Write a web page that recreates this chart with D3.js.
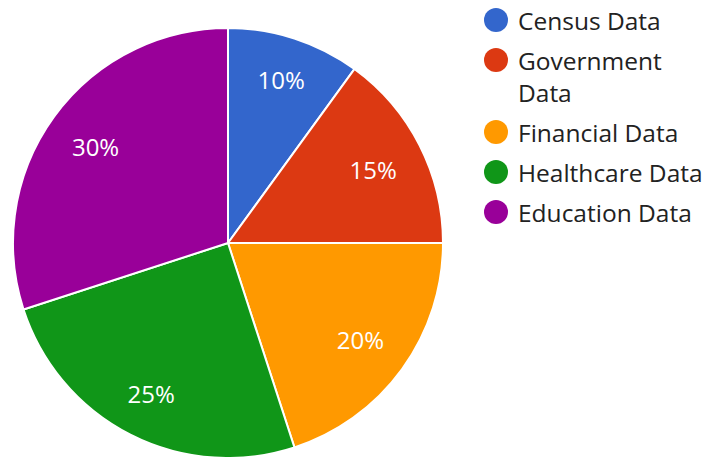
<!DOCTYPE html>
<html><head><meta charset="utf-8">
<script src="https://cdn.jsdelivr.net/npm/d3@7"></script>
<style>body{margin:0;background:#fff}svg{display:block}</style>
</head><body>
<svg id="c" width="704" height="457"></svg>
<script>
const categories = ["Census Data", "Government Data", "Financial Data", "Healthcare Data", "Education Data"];
const values = [10, 15, 20, 25, 30];
const colors = ["#3366cc", "#dc3912", "#ff9900", "#109618", "#990099"];
const legendLines = [["Census Data"], ["Government", "Data"], ["Financial Data"], ["Healthcare Data"], ["Education Data"]];

const svg = d3.select("#c");
const cx = 228, cy = 243, r = 215;
const total = d3.sum(values);
const pie = d3.pie().sort(null).value(d => d)(values);
const arc = d3.arc().innerRadius(0).outerRadius(r);
const g = svg.append("g").attr("transform", `translate(${cx},${cy})`);
g.selectAll("path").data(pie).join("path")
  .attr("d", arc).attr("fill", (d, i) => colors[i])
  .attr("stroke", "#fff").attr("stroke-width", 2);
const fs = 24;
g.selectAll("text").data(pie).join("text")
  .attr("text-anchor", "middle").attr("dominant-baseline", "central")
  .attr("font-family", "Open Sans").attr("font-size", fs).attr("fill", "#fff")
  .text(d => Math.round(d.value / total * 100) + "%")
  .attr("transform", function(d) {
    const a = (d.startAngle + d.endAngle) / 2;
    const ux = Math.sin(a), uy = -Math.cos(a);
    const w = this.getComputedTextLength(), h = fs * 0.75;
    const dist = r * 0.875 - (w / 2 * Math.abs(ux) + h / 2 * Math.abs(uy));
    return `translate(${ux * dist},${uy * dist})`;
  });

const legendY = [20, 60, 132, 172, 212];
const lg = svg.append("g");
categories.forEach((c, i) => {
  lg.append("circle").attr("cx", 496).attr("cy", legendY[i]).attr("r", 12).attr("fill", colors[i]);
  const t = lg.append("text").attr("x", 518).attr("y", legendY[i])
    .attr("dominant-baseline", "central")
    .attr("font-family", "Open Sans").attr("font-size", 24.5).attr("fill", "#222");
  legendLines[i].forEach((l, j) => {
    t.append("tspan").attr("x", 518).attr("dy", j === 0 ? 0 : 32).text(l);
  });
});
</script>
</body></html>
